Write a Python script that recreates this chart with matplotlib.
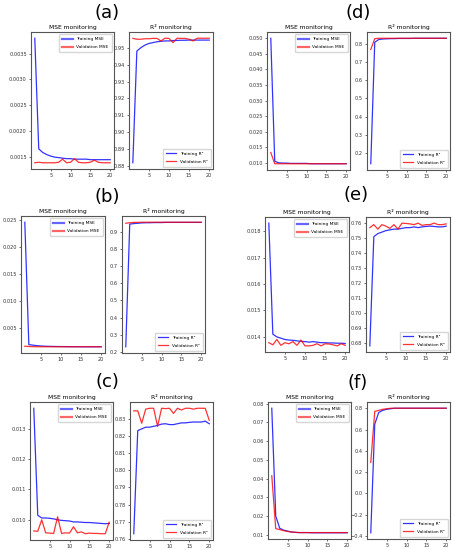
import numpy as np
import matplotlib
matplotlib.use("Agg")
import matplotlib.pyplot as plt
from matplotlib.ticker import MultipleLocator

W, H = 456, 550
epochs = list(range(1, 21))

# (a)
a_mse_train = [0.00380, 0.00165, 0.00158, 0.00154, 0.00151, 0.00149, 0.00148, 0.00147, 0.00146, 0.00146,
               0.00145, 0.00145, 0.00145, 0.00145, 0.00144, 0.00144, 0.00144, 0.00144, 0.00144, 0.00144]
a_mse_val = [0.00138, 0.00139, 0.00138, 0.00138, 0.00138, 0.00138, 0.00139, 0.00145, 0.00138, 0.00139,
             0.00146, 0.00139, 0.00138, 0.00138, 0.00139, 0.00143, 0.00139, 0.00138, 0.00138, 0.00138]
a_r2_train = [0.882, 0.948, 0.950, 0.9515, 0.9525, 0.953, 0.9535, 0.9538, 0.954, 0.954,
              0.9542, 0.9543, 0.9544, 0.9544, 0.9545, 0.9545, 0.9545, 0.9545, 0.9545, 0.9545]
a_r2_val = [0.9555, 0.955, 0.955, 0.9553, 0.9553, 0.9555, 0.9555, 0.954, 0.9556, 0.9555,
            0.953, 0.9556, 0.9555, 0.9555, 0.955, 0.954, 0.9556, 0.9556, 0.9556, 0.9556]

# (b)
b_mse_train = [0.0245, 0.0019, 0.0018, 0.0017, 0.00165, 0.0016, 0.00158, 0.00156, 0.00155, 0.00154,
               0.00153, 0.00152, 0.00152, 0.00151, 0.00151, 0.0015, 0.0015, 0.0015, 0.0015, 0.0015]
b_mse_val = [0.0016, 0.00155, 0.00152, 0.00151, 0.0015, 0.0015, 0.0015, 0.0015, 0.0015, 0.0015,
             0.0015, 0.0015, 0.0015, 0.0015, 0.0015, 0.0015, 0.0015, 0.0015, 0.0015, 0.0015]
b_r2_train = [0.23, 0.945, 0.948, 0.950, 0.952, 0.953, 0.953, 0.954, 0.954, 0.954,
              0.955, 0.955, 0.955, 0.955, 0.955, 0.955, 0.955, 0.955, 0.955, 0.955]
b_r2_val = [0.950, 0.953, 0.955, 0.955, 0.956, 0.956, 0.956, 0.956, 0.956, 0.956,
            0.956, 0.956, 0.956, 0.956, 0.956, 0.956, 0.956, 0.956, 0.956, 0.956]

# (c)
c_mse_train = [0.01368, 0.01015, 0.01006, 0.01006, 0.01005, 0.01003, 0.01000, 0.00998, 0.00997, 0.00996,
               0.00993, 0.00993, 0.00992, 0.00991, 0.00991, 0.00990, 0.00989, 0.00988, 0.00987, 0.00988]
c_mse_val = [0.00963, 0.00962, 0.01000, 0.00957, 0.00956, 0.00955, 0.01010, 0.00955, 0.00957, 0.00956,
             0.00977, 0.00957, 0.00960, 0.00954, 0.00956, 0.00955, 0.00955, 0.00954, 0.00954, 0.00992]
c_r2_train = [0.763, 0.823, 0.824, 0.825, 0.825, 0.8255, 0.826, 0.8268, 0.827, 0.8265,
              0.8265, 0.827, 0.8275, 0.8275, 0.8278, 0.828, 0.828, 0.828, 0.8285, 0.827]
c_r2_val = [0.8345, 0.8345, 0.8273, 0.8355, 0.836, 0.836, 0.8255, 0.836, 0.8358, 0.836,
            0.833, 0.836, 0.835, 0.836, 0.836, 0.8355, 0.836, 0.836, 0.836, 0.829]

# (d)
d_mse_train = [0.0500, 0.0105, 0.0100, 0.0099, 0.0099, 0.0098, 0.0098, 0.0098, 0.0098, 0.0098,
               0.0097, 0.0097, 0.0097, 0.0097, 0.0097, 0.0097, 0.0097, 0.0097, 0.0097, 0.0097]
d_mse_val = [0.0133, 0.0097, 0.0097, 0.0097, 0.0097, 0.0097, 0.0097, 0.0097, 0.0097, 0.0097,
             0.0097, 0.0097, 0.0097, 0.0097, 0.0097, 0.0097, 0.0097, 0.0097, 0.0097, 0.0097]
d_r2_train = [0.14, 0.810, 0.825, 0.828, 0.829, 0.830, 0.830, 0.831, 0.831, 0.831,
              0.831, 0.832, 0.832, 0.832, 0.832, 0.832, 0.832, 0.832, 0.832, 0.832]
d_r2_val = [0.770, 0.830, 0.832, 0.832, 0.832, 0.832, 0.832, 0.832, 0.832, 0.832,
            0.832, 0.832, 0.832, 0.832, 0.832, 0.832, 0.832, 0.832, 0.832, 0.832]

# (e)
e_mse_train = [0.01830, 0.01410, 0.01400, 0.01395, 0.01390, 0.01388, 0.01387, 0.01385, 0.01383, 0.01382,
               0.01380, 0.01382, 0.01380, 0.01378, 0.01378, 0.01377, 0.01377, 0.01376, 0.01376, 0.01375]
e_mse_val = [0.01378, 0.01370, 0.01390, 0.01368, 0.01378, 0.01374, 0.01382, 0.01368, 0.01388, 0.01366,
             0.01366, 0.01368, 0.01374, 0.01366, 0.01374, 0.01373, 0.01370, 0.01366, 0.01374, 0.01368]
e_r2_train = [0.678, 0.751, 0.753, 0.754, 0.755, 0.7555, 0.756, 0.756, 0.7565, 0.757,
              0.757, 0.7575, 0.757, 0.7575, 0.7578, 0.758, 0.7578, 0.7575, 0.7575, 0.758]
e_r2_val = [0.757, 0.759, 0.756, 0.759, 0.758, 0.7565, 0.759, 0.756, 0.760, 0.7598,
            0.7595, 0.759, 0.760, 0.7585, 0.759, 0.759, 0.760, 0.759, 0.759, 0.7595]

# (f)
f_mse_train = [0.0775, 0.0200, 0.0135, 0.0125, 0.0120, 0.0115, 0.0113, 0.0112, 0.0112, 0.0112,
               0.0111, 0.0111, 0.0111, 0.0111, 0.0111, 0.0111, 0.0111, 0.0111, 0.0111, 0.0111]
f_mse_val = [0.0415, 0.0133, 0.0128, 0.0122, 0.0118, 0.0115, 0.0113, 0.0112, 0.0112, 0.0112,
             0.0112, 0.0112, 0.0112, 0.0112, 0.0112, 0.0112, 0.0112, 0.0112, 0.0112, 0.0112]
f_r2_train = [-0.37, 0.65, 0.76, 0.78, 0.79, 0.795, 0.80, 0.80, 0.80, 0.80,
              0.80, 0.80, 0.80, 0.80, 0.80, 0.80, 0.80, 0.80, 0.80, 0.80]
f_r2_val = [0.29, 0.77, 0.78, 0.79, 0.795, 0.80, 0.80, 0.80, 0.80, 0.80,
            0.80, 0.80, 0.80, 0.80, 0.80, 0.80, 0.80, 0.80, 0.80, 0.80]

panel_labels = ["(a)", "(b)", "(c)", "(d)", "(e)", "(f)"]
# y tick spacing of the R² axes (None = matplotlib default)
r2_steps = [None, None, None, None, 0.01, 0.2]

# pixel boxes: label (x, y), mse box (x0, x1, y0, y1), r2 box
panels = [
    ((107, 13), (31, 114, 32, 169), (129, 213, 32, 169), a_mse_train, a_mse_val, a_r2_train, a_r2_val),
    ((107, 197), (21, 105, 216, 353), (122, 205, 216, 353), b_mse_train, b_mse_val, b_r2_train, b_r2_val),
    ((107, 382), (30, 113, 402, 540), (130, 213, 402, 540), c_mse_train, c_mse_val, c_r2_train, c_r2_val),
    ((358, 13), (267, 350, 32, 170), (367, 450, 32, 170), d_mse_train, d_mse_val, d_r2_train, d_r2_val),
    ((356, 195), (265, 349, 217, 352), (366, 450, 217, 352), e_mse_train, e_mse_val, e_r2_train, e_r2_val),
    ((358, 383), (268, 351, 402, 539), (367, 450, 402, 539), f_mse_train, f_mse_val, f_r2_train, f_r2_val),
]

fig = plt.figure(figsize=(W / 100, H / 100), dpi=100)


def px_axes(box):
    x0, x1, y0, y1 = box
    return fig.add_axes([x0 / W, 1 - y1 / H, (x1 - x0) / W, (y1 - y0) / H])


def style(ax):
    for s in ax.spines.values():
        s.set_color('#555555')
        s.set_linewidth(0.8)
    ax.tick_params(labelsize=3.6, length=1.5, width=0.5, pad=1.5, colors='#333333')
    ax.set_xticks([5, 10, 15, 20])


for lab, step, p in zip(panel_labels, r2_steps, panels):
    (lx, ly), mbox, rbox, mt, mv, rt, rv = p
    fig.text(lx / W, 1 - ly / H, lab, fontsize=13, ha='center', va='center')

    ax = px_axes(mbox)
    ax.plot(epochs, mt, color='blue', lw=0.9, alpha=0.8, label='Training MSE')
    ax.plot(epochs, mv, color='red', lw=0.9, alpha=0.8, label='Validation MSE')
    ax.set_title('MSE monitoring', fontsize=4.3, pad=2.5)
    leg = ax.legend(loc='upper right', fontsize=3.2, handlelength=2.4, borderpad=0.7, labelspacing=0.8)
    for h in leg.get_lines():
        h.set_linewidth(1.6)
        h.set_alpha(0.6)
    style(ax)

    ax = px_axes(rbox)
    ax.plot(epochs, rt, color='blue', lw=0.9, alpha=0.8, label='Training R²')
    ax.plot(epochs, rv, color='red', lw=0.9, alpha=0.8, label='Validation R²')
    ax.set_title('R² monitoring', fontsize=4.3, pad=2.5)
    ax.legend(loc='lower right', fontsize=3.2, handlelength=2.4, borderpad=0.7, labelspacing=0.8)
    style(ax)
    if step:
        ax.yaxis.set_major_locator(MultipleLocator(step))

fig.savefig('out.png', dpi=100)
